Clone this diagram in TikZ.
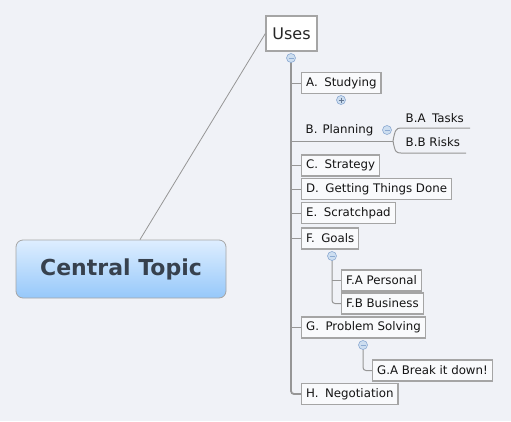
\documentclass[tikz,border=0pt]{standalone}
\usepackage{fontspec}
\setmainfont{DejaVu Sans}
\usetikzlibrary{calc}
\definecolor{bg}{RGB}{240,242,247}
\definecolor{boxline}{RGB}{165,165,165}
\definecolor{conn}{RGB}{150,150,150}
\definecolor{ctop}{RGB}{222,238,255}
\definecolor{cbot}{RGB}{150,200,250}
\definecolor{ctext}{RGB}{55,65,78}
\definecolor{circfill}{RGB}{205,222,240}
\definecolor{circline}{RGB}{140,170,210}
\newcommand{\gap}{\hspace{6.5pt}}
\begin{document}
\begin{tikzpicture}[x=1pt,y=-1pt,
  topicbox/.style={draw=boxline,line width=1.3pt,fill=white!60!bg,anchor=west,
    minimum height=21pt,inner xsep=4.5pt,inner ysep=0pt,font=\fontsize{11.8}{14}\selectfont,text=black!92},
  plaintopic/.style={anchor=west,inner xsep=4.5pt,inner ysep=0pt,font=\fontsize{11.8}{14}\selectfont,text=black!92},
  trunk/.style={draw=conn,line width=1.8pt},
  twig/.style={draw=conn,line width=1pt},
  toggle/.style={circle,draw=circline,fill=circfill,line width=0.6pt,minimum size=9pt,inner sep=0pt}]
\fill[bg] (0,0) rectangle (511,421);
\useasboundingbox (0,0) rectangle (511,421);

% central topic
\node[draw=gray!70,line width=0.8pt,rounded corners=7pt,minimum width=210pt,minimum height=58pt,
  top color=ctop,bottom color=cbot,font=\fontsize{22}{26}\bfseries\selectfont,text=ctext]
  (ct) at (121,269) {Central Topic};

% Uses
\node[draw=boxline,line width=1.3pt,fill=white,minimum width=51pt,minimum height=35pt,
  font=\fontsize{16}{19}\selectfont,text=black!85] (uses) at (291.5,33.5) {Uses};
\draw[conn,line width=0.8pt] ($(ct.north west)!0.59!(ct.north east)$) -- (uses.west);

% children
\node[topicbox] (A) at (301,83) {A.\gap Studying};
\node[plaintopic] (B) at (301,130) {B.\hspace{5pt}Planning};
\node[topicbox] (C) at (301,165.5) {C.\gap Strategy};
\node[topicbox] (D) at (301,189) {D.\gap Getting Things Done};
\node[topicbox] (E) at (301,213) {E.\gap Scratchpad};
\node[topicbox] (F) at (301,238.5) {F.\gap Goals};
\node[topicbox] (FA) at (341,280.5) {F.A Personal};
\node[topicbox] (FB) at (341,303.5) {F.B Business};
\node[topicbox] (G) at (301,327.5) {G.\gap Problem Solving};
\node[topicbox] (GA) at (372,370.5) {G.A Break it down!};
\node[topicbox] (H) at (301,394) {H.\gap Negotiation};
\node[plaintopic] (BA) at (401,118) {B.A\gap Tasks};
\node[plaintopic] (BB) at (401,142.5) {B.B Risks};

% toggles
\coordinate (ut) at (291,58);
\coordinate (bt) at (387,130);
\coordinate (ft) at (332,256);
\coordinate (gt) at (363,345);
\coordinate (at) at (341,100);

% trunk
\draw[trunk,rounded corners=3pt] (ut) |- (H.west);
\foreach \n in {A,C,D,E,F,G}{\draw[twig] (ut |- \n.west) -- (\n.west);}
\coordinate (bl) at (ut |- 0,141);
\coordinate (br) at (393,141);
\draw[twig] (bl) -- (br);
\coordinate (bau) at (470,128);
\coordinate (bbu) at (466,153);
\draw[twig] (br) .. controls (395,130) and (396,128) .. (401,128) -- (bau);
\draw[twig] (br) .. controls (395,152) and (396,153) .. (401,153) -- (bbu);

\draw[twig,rounded corners=3pt] (ft) |- (FB.west);
\draw[twig] (ft |- FA.west) -- (FA.west);
\draw[twig,rounded corners=3pt] (gt) |- (GA.west);

% toggle circles
\foreach \c in {ut,bt,ft,gt}{
  \node[toggle] at (\c) {};
  \draw[circline,line width=0.8pt] ($(\c)+(-2.5,0)$) -- ($(\c)+(2.5,0)$);}
\node[toggle] at (at) {};
\draw[circline!70!black,line width=0.8pt] ($(at)+(-2.5,0)$) -- ($(at)+(2.5,0)$) ($(at)+(0,-2.5)$) -- ($(at)+(0,2.5)$);
\end{tikzpicture}
\end{document}
